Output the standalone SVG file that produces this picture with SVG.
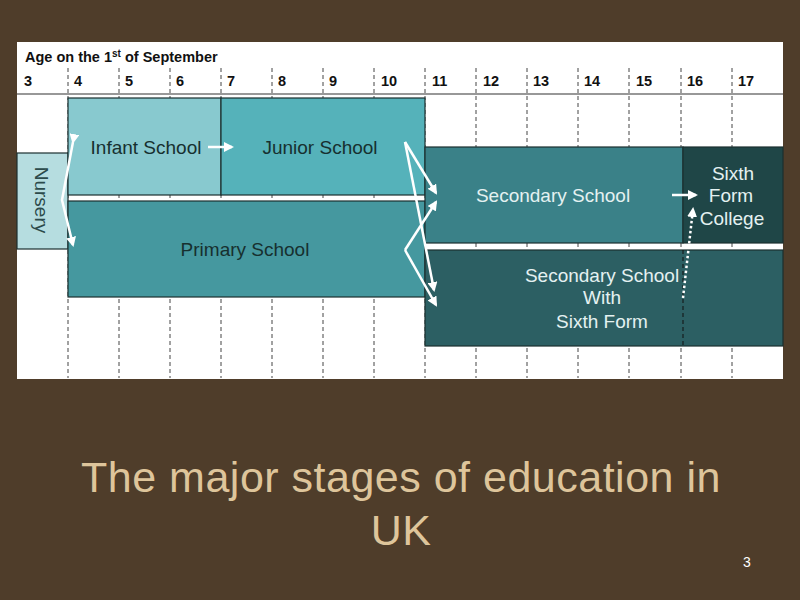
<svg xmlns="http://www.w3.org/2000/svg" width="800" height="600" viewBox="0 0 800 600">
<defs>
<style>
.hdr{font-family:"Liberation Sans",Arial,sans-serif;font-weight:bold;font-size:14.5px;fill:#111}
.lbl{font-family:"Liberation Sans",Arial,sans-serif;font-size:19px;text-anchor:middle}
.dk{fill:#17302f}
.lt{fill:#e4f1f1}
.box{stroke:#1c2f2f;stroke-width:1.2}
.grid{stroke:#444;stroke-width:1;stroke-dasharray:4 3}
.arr{stroke:#fff;stroke-width:2.5;fill:none}
</style>
<marker id="ah" viewBox="0 0 10 10" refX="8" refY="5" markerWidth="4" markerHeight="4" orient="auto" markerUnits="strokeWidth">
<path d="M0,0 L10,5 L0,10 z" fill="#fff"/>
</marker>
</defs>
<rect width="800" height="600" fill="#4f3d2a"/>
<rect x="17" y="42" width="766" height="337" fill="#fff"/>
<g id="header">
<text class="hdr" x="25" y="62">Age on the 1<tspan font-size="10" dy="-5">st</tspan><tspan dy="5"> of September</tspan></text>
<g class="hdr">
<text x="24" y="86">3</text><text x="74" y="86">4</text><text x="125" y="86">5</text><text x="176" y="86">6</text>
<text x="227" y="86">7</text><text x="278" y="86">8</text><text x="329" y="86">9</text><text x="381" y="86">10</text>
<text x="432" y="86">11</text><text x="483" y="86">12</text><text x="533" y="86">13</text><text x="584" y="86">14</text>
<text x="636" y="86">15</text><text x="687" y="86">16</text><text x="738" y="86">17</text>
</g>
</g>
<g id="grid" class="grid">
<line x1="68" y1="68" x2="68" y2="378"/><line x1="119" y1="68" x2="119" y2="378"/><line x1="170" y1="68" x2="170" y2="378"/>
<line x1="221" y1="68" x2="221" y2="378"/><line x1="272" y1="68" x2="272" y2="378"/><line x1="323" y1="68" x2="323" y2="378"/>
<line x1="374" y1="68" x2="374" y2="378"/><line x1="425" y1="68" x2="425" y2="378"/><line x1="476" y1="68" x2="476" y2="378"/>
<line x1="527" y1="68" x2="527" y2="378"/><line x1="578" y1="68" x2="578" y2="378"/><line x1="629" y1="68" x2="629" y2="378"/>
<line x1="681" y1="68" x2="681" y2="378"/><line x1="732" y1="68" x2="732" y2="378"/>
</g>
<line x1="17" y1="94" x2="783" y2="94" stroke="#333" stroke-width="1.2"/>
<g id="nursery">
<rect class="box" x="17" y="153" width="51" height="96" fill="#b6dde0"/>
<text class="lbl" transform="translate(35,200) rotate(90)" fill="#2c4a4b">Nursery</text>
</g>
<g id="infant">
<rect class="box" x="68" y="98" width="153" height="97" fill="#88c9cf"/>
<text class="lbl dk" x="146" y="154">Infant School</text>
</g>
<g id="junior">
<rect class="box" x="221" y="98" width="204" height="97" fill="#55b2ba"/>
<text class="lbl dk" x="320" y="154">Junior School</text>
</g>
<g id="primary">
<rect class="box" x="68" y="201" width="357" height="96" fill="#45989f"/>
<text class="lbl dk" x="245" y="256">Primary School</text>
</g>
<g id="secondary">
<rect class="box" x="425" y="147" width="258" height="96" fill="#3a8188"/>
<text class="lbl lt" x="553" y="202">Secondary School</text>
</g>
<g id="sixthcollege">
<rect class="box" x="683" y="147" width="100" height="96" fill="#1f4647"/>
<text class="lbl lt" x="733" y="180">Sixth</text>
<text class="lbl lt" x="731" y="202">Form</text>
<text class="lbl lt" x="732" y="225">College</text>
</g>
<g id="secondarysixth">
<rect class="box" x="425" y="250" width="358" height="96" fill="#2c5f63"/>
<line x1="683" y1="250" x2="683" y2="346" stroke="#111" stroke-width="1" stroke-dasharray="4 3"/>
<text class="lbl lt" x="602" y="282">Secondary School</text>
<text class="lbl lt" x="602" y="304">With</text>
<text class="lbl lt" x="602" y="328">Sixth Form</text>
</g>
<g id="connectors" class="arr">
<polyline points="73,142 62,200 73,245" marker-start="url(#ah)" marker-end="url(#ah)"/>
<line x1="208" y1="147" x2="232" y2="147" marker-end="url(#ah)"/>
<line x1="405" y1="142" x2="436" y2="193" marker-end="url(#ah)"/>
<line x1="405" y1="142" x2="434" y2="290" marker-end="url(#ah)"/>
<line x1="405" y1="250" x2="436" y2="202" marker-end="url(#ah)"/>
<line x1="405" y1="250" x2="436" y2="305" marker-end="url(#ah)"/>
<line x1="672" y1="195" x2="696" y2="195" marker-end="url(#ah)"/>
<line x1="683" y1="298" x2="693" y2="209" stroke-dasharray="2.5 2.5" marker-end="url(#ah)"/>
</g>
<g id="title" font-family="'Liberation Sans',Arial,sans-serif" font-size="43" fill="#dec59b" text-anchor="middle" letter-spacing="0.5">
<text x="401" y="492">The major stages of education in</text>
<text x="401" y="545">UK</text>
</g>
<text x="747" y="567" font-family="'Liberation Sans',Arial,sans-serif" font-size="14" fill="#fff" text-anchor="middle">3</text>
</svg>
